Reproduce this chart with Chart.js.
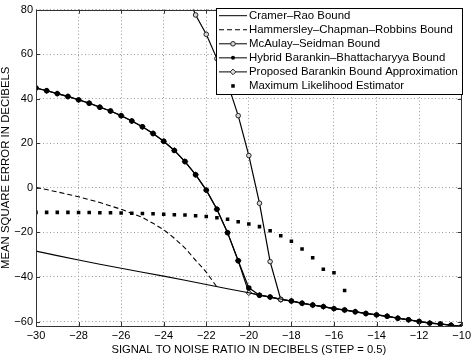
<!DOCTYPE html>
<html>
<head>
<meta charset="utf-8">
<script src="https://cdn.jsdelivr.net/npm/chart.js@4.4.0/dist/chart.umd.min.js"></script>
<style>
  html, body { margin: 0; padding: 0; background: #fff; }
  #wrap { width: 474px; height: 358px; }
</style>
</head>
<body>
<div id="wrap"><canvas id="mse-chart" width="474" height="358"></canvas></div>
<script>
// SNR grid (dB), step 0.5
const snrHalf = [-30,-29.5,-29,-28.5,-28,-27.5,-27,-26.5,-26,-25.5,-25,-24.5,-24,-23.5,-23,-22.5,-22,-21.5,-21,-20.5,
                 -20,-19.5,-19,-18.5,-18,-17.5,-17,-16.5,-16,-15.5,-15,-14.5,-14,-13.5,-13,-12.5,-12,-11.5,-11,-10.5,-10];

// Cramer-Rao bound
const crbSnr = [-30,-29,-28,-27,-26,-25,-24,-23,-22,-21,-20,-19,-18,-17,-16,-15,-14,-13,-12,-11,-10];
const crbMse = [-28.4,-30.4,-32.4,-34.3,-36.1,-37.9,-39.6,-41.5,-43.4,-45.3,-47.1,-49.0,-50.8,-52.6,-54.2,-55.6,-57.0,-58.5,-60.0,-61.1,-62.2];

// Hammersley-Chapman-Robbins bound (dashed)
const hcrSnr = [-30,-29,-28,-27,-26,-25,-24.5,-24,-23.5,-23,-22.5,-22,-21.5];
const hcrMse = [0.2,-1.8,-4.0,-6.6,-9.6,-13.3,-15.9,-18.8,-22.6,-27.0,-32.5,-37.8,-44.5];

// McAulay-Seidman bound
const msSnr = [-23,-22.5,-22,-21.5,-21,-20.5,-20,-19.5,-19,-18.5];
const msMse = [89,77.6,68.9,58,47,32.4,14.5,-6.9,-33.1,-50.1];

// Hybrid Barankin-Bhattacharyya bound
const hbbMse = [44.8,43.6,42.3,41.0,39.5,38.0,36.2,34.5,32.4,30.0,27.4,24.4,20.9,16.8,11.8,5.9,-1.0,-9.6,-20.1,-32.7,
                -44.9,-48.2,-49.0,-50.1,-50.8,-51.8,-52.6,-53.3,-54.2,-54.8,-55.6,-56.4,-57.0,-57.6,-58.5,-59.2,-60.0,-60.7,-61.1,-61.6,-62.2];

// Proposed Barankin bound approximation
const pbaMse = [44.8,43.6,42.3,41.0,39.5,38.0,36.2,34.5,32.4,30.0,27.4,24.4,20.9,16.8,11.8,5.9,-1.0,-9.6,-20.1,-32.7,
                -47.1,-48.2,-49.0,-50.1,-50.8,-51.8,-52.6,-53.3,-54.2,-54.8,-55.6,-56.4,-57.0,-57.6,-58.5,-59.2,-60.0,-60.7,-61.1,-61.6,-62.2];

// Maximum likelihood estimator (markers only)
const mleSnr = [-30,-29.5,-29,-28.5,-28,-27.5,-27,-26.5,-26,-25.5,-25,-24.5,-24,-23.5,-23,-22.5,-22,-21.5,-21,-20.5,
                -20,-19.5,-19,-18.5,-18,-17.5,-17,-16.5,-16,-15.5];
const mleMse = [-11.0,-11.0,-11.0,-11.0,-11.1,-11.1,-11.2,-11.2,-11.3,-11.4,-11.5,-11.6,-11.8,-12.1,-12.2,-12.5,-12.9,-13.4,-14.1,-15.2,
                -16.2,-17.4,-19.3,-21.5,-24.0,-27.4,-31.4,-36.5,-38.1,-46.1];

const xTicks = [-30,-28,-26,-24,-22,-20,-18,-16,-14,-12,-10];
const yTicks = [-60,-40,-20,0,20,40,60,80];

const FONT = "'Liberation Sans', Arial, Helvetica, sans-serif";

function pts(xs, ys) { return xs.map((x, i) => ({x: x, y: ys[i]})); }
function minusLabel(v) { return v < 0 ? '\u2212' + Math.abs(v) : String(v); }

const dataObj = {
  datasets: [
    { label: 'Cramer\u2013Rao Bound', data: pts(crbSnr, crbMse),
      borderColor: '#000', borderWidth: 1.1, pointRadius: 0 },
    { label: 'Hammersley\u2013Chapman\u2013Robbins Bound', data: pts(hcrSnr, hcrMse),
      borderColor: '#000', borderWidth: 1.1, borderDash: [5, 3], pointRadius: 0 },
    { label: 'McAulay\u2013Seidman Bound', data: pts(msSnr, msMse),
      borderColor: '#000', borderWidth: 1.2, pointStyle: 'circle', pointRadius: 2.3,
      pointBackgroundColor: '#d8d8d8', pointBorderColor: '#222', pointBorderWidth: 1 },
    { label: 'Hybrid Barankin\u2013Bhattacharyya Bound', data: pts(snrHalf, hbbMse),
      borderColor: '#000', borderWidth: 1.3, pointStyle: 'circle', pointRadius: 2.7,
      pointBackgroundColor: '#000', pointBorderColor: '#000', pointBorderWidth: 0 },
    { label: 'Proposed Barankin Bound Approximation', data: pts(snrHalf, pbaMse),
      borderColor: '#000', borderWidth: 1.1, pointStyle: 'rectRot', pointRadius: 2.8,
      pointBackgroundColor: '#e0e0e0', pointBorderColor: '#222', pointBorderWidth: 1 },
    { label: 'Maximum Likelihood Estimator', data: pts(mleSnr, mleMse),
      showLine: false, pointStyle: 'rect', pointRadius: 2.5,
      pointBackgroundColor: '#000', pointBorderColor: '#000', pointBorderWidth: 0 }
  ]
};

// MATLAB-like frame, inward ticks and boxed legend inside the axes
const matlabFrame = {
  id: 'matlabFrame',
  afterDatasetsDraw(chart) {
    const {ctx, chartArea: {left, right, top, bottom}} = chart;
    const xs = chart.scales.x, ys = chart.scales.y;
    ctx.save();
    ctx.strokeStyle = '#333';
    ctx.lineWidth = 1;
    ctx.setLineDash([]);
    ctx.beginPath();
    xTicks.forEach(v => {
      const px = Math.round(xs.getPixelForValue(v)) + 0.5;
      ctx.moveTo(px, bottom); ctx.lineTo(px, bottom - 4);
      ctx.moveTo(px, top); ctx.lineTo(px, top + 4);
    });
    yTicks.forEach(v => {
      const py = Math.round(ys.getPixelForValue(v)) + 0.5;
      ctx.moveTo(left, py); ctx.lineTo(left + 4, py);
      ctx.moveTo(right, py); ctx.lineTo(right - 4, py);
    });
    ctx.stroke();
    ctx.strokeRect(Math.round(left) + 0.5, Math.round(top) + 0.5, Math.round(right - left) - 1, Math.round(bottom - top));
    ctx.restore();
  },
  afterDraw(chart) {
    const ctx = chart.ctx;
    const bx = 216, by = 8, bw = 246, bh = 86;
    ctx.save();
    ctx.fillStyle = '#fff';
    ctx.fillRect(bx, by, bw, bh);
    ctx.strokeStyle = '#000';
    ctx.lineWidth = 1;
    ctx.strokeRect(bx + 0.5, by + 0.5, bw, bh);
    ctx.font = '11.4px ' + FONT;
    ctx.textBaseline = 'middle';
    chart.data.datasets.forEach((ds, i) => {
      const cy = 15.7 + i * 14.05;
      ctx.strokeStyle = '#000';
      ctx.lineWidth = 1;
      if (ds.showLine !== false) {
        ctx.setLineDash(ds.borderDash || []);
        ctx.beginPath();
        ctx.moveTo(219, cy); ctx.lineTo(247, cy);
        ctx.stroke();
        ctx.setLineDash([]);
      }
      if (ds.pointRadius > 0) {
        ctx.fillStyle = ds.pointBackgroundColor;
        ctx.strokeStyle = ds.pointBorderColor;
        const r = ds.label.startsWith('Hybrid') ? 2 : ds.pointRadius;
        Chart.helpers.drawPoint(ctx, {pointStyle: ds.pointStyle, radius: r, rotation: 0,
          borderWidth: ds.pointBorderWidth}, 233, cy);
      }
      ctx.fillStyle = '#000';
      ctx.fillText(ds.label, 249, cy);
    });
    ctx.restore();
  }
};

new Chart('mse-chart', {
  type: 'scatter',
  data: dataObj,
  plugins: [matlabFrame],
  options: {
    responsive: false,
    animation: false,
    devicePixelRatio: 1,
    showLine: true,
    layout: { padding: { left: 0, right: 6, top: 4, bottom: 0 } },
    plugins: { legend: { display: false }, tooltip: { enabled: false } },
    elements: { line: { tension: 0, fill: false } },
    scales: {
      x: {
        type: 'linear', min: -30, max: -10,
        afterFit(scale) { scale.height = 32; },
        afterBuildTicks(scale) { scale.ticks = xTicks.map(v => ({value: v})); },
        ticks: { color: '#000', padding: 3, maxRotation: 0, autoSkip: false,
                 font: { family: FONT, size: 11 }, callback: v => minusLabel(v) },
        grid: { color: '#9a9a9a', lineWidth: 1, drawTicks: false },
        border: { display: false, dash: [1, 2.5] },
        title: { display: true, text: 'SIGNAL TO NOISE RATIO IN DECIBELS (STEP = 0.5)',
                 color: '#000', font: { family: FONT, size: 11.2, lineHeight: 1.2 },
                 padding: { top: 0, bottom: 1 } }
      },
      y: {
        type: 'linear', min: -62, max: 80,
        afterFit(scale) { scale.width = 36; },
        afterBuildTicks(scale) { scale.ticks = yTicks.map(v => ({value: v})); },
        ticks: { color: '#000', padding: 3, autoSkip: false,
                 font: { family: FONT, size: 11 }, callback: v => minusLabel(v) },
        grid: { color: '#9a9a9a', lineWidth: 1, drawTicks: false },
        border: { display: false, dash: [1, 2.5] },
        title: { display: true, text: 'MEAN SQUARE ERROR IN DECIBELS',
                 color: '#000', font: { family: FONT, size: 11.4, lineHeight: 1 },
                 padding: { top: 0, bottom: 0 } }
      }
    }
  }
});
</script>
</body>
</html>
